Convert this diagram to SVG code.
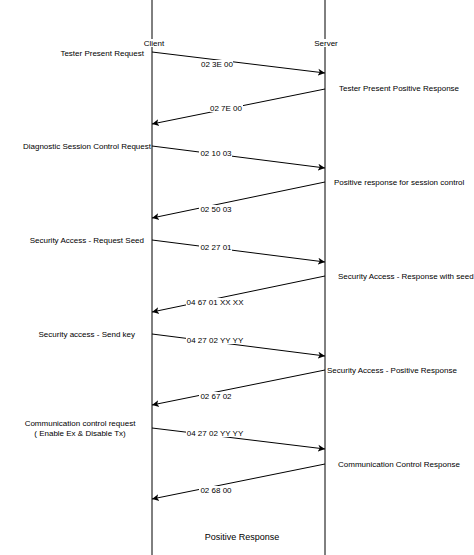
<svg xmlns="http://www.w3.org/2000/svg" width="474" height="555" viewBox="0 0 474 555">
<style>
text{font-family:"Liberation Sans",Arial,sans-serif;font-size:8px;fill:#000}
.life{stroke:#000;stroke-width:1;fill:none}
.msg{stroke:#000;stroke-width:1;fill:none;marker-end:url(#ah)}
.lbl{fill:#fff}
.m{text-anchor:middle}
</style>
<defs>
<marker id="ah" markerWidth="8" markerHeight="8" refX="7" refY="4" orient="auto" markerUnits="userSpaceOnUse">
<path d="M0,0.5 L7,4 L0,7.5 L1.8,4 Z" fill="#000"/>
</marker>
</defs>
<rect width="474" height="555" fill="#fff"/>
<g id="client"><line class="life" x1="152" y1="0" x2="152" y2="555"/><rect class="lbl" x="144" y="39" width="21" height="8"/><text x="154" y="46" class="m">Client</text></g>
<g id="server"><line class="life" x1="325" y1="0" x2="325" y2="555"/><rect class="lbl" x="314" y="39" width="24" height="8"/><text x="326" y="46" class="m">Server</text></g>
<g id="connectors">
<line class="msg" x1="152" y1="52" x2="325" y2="73"/>
<line class="msg" x1="325" y1="89" x2="152" y2="124"/>
<line class="msg" x1="152" y1="146" x2="325" y2="168"/>
<line class="msg" x1="325" y1="182" x2="152" y2="218"/>
<line class="msg" x1="152" y1="240" x2="325" y2="262"/>
<line class="msg" x1="325" y1="276" x2="152" y2="312"/>
<line class="msg" x1="152" y1="334" x2="325" y2="356"/>
<line class="msg" x1="325" y1="370" x2="152" y2="405"/>
<line class="msg" x1="152" y1="428" x2="325" y2="449"/>
<line class="msg" x1="325" y1="464" x2="152" y2="499"/>
<rect class="lbl" x="200" y="60" width="33" height="8"/><text x="217" y="67" class="m">02 3E 00</text>
<rect class="lbl" x="210" y="104" width="33" height="8"/><text x="226" y="111" class="m">02 7E 00</text>
<rect class="lbl" x="199" y="149" width="33" height="8"/><text x="216" y="156" class="m">02 10 03</text>
<rect class="lbl" x="199" y="205" width="33" height="8"/><text x="216" y="212" class="m">02 50 03</text>
<rect class="lbl" x="199" y="243" width="33" height="8"/><text x="216" y="250" class="m">02 27 01</text>
<rect class="lbl" x="186" y="298" width="58" height="8"/><text x="215" y="305" class="m">04 67 01 XX XX</text>
<rect class="lbl" x="186" y="336" width="58" height="8"/><text x="215" y="343" class="m">04 27 02 YY YY</text>
<rect class="lbl" x="199" y="392" width="33" height="8"/><text x="216" y="399" class="m">02 67 02</text>
<rect class="lbl" x="186" y="429" width="58" height="8"/><text x="215" y="436" class="m">04 27 02 YY YY</text>
<rect class="lbl" x="199" y="486" width="33" height="8"/><text x="216" y="493" class="m">02 68 00</text>
</g>
<g id="n1"><text x="144" y="56" text-anchor="end">Tester Present Request</text></g>
<g id="n2"><text x="339" y="91">Tester Present Positive Response</text></g>
<g id="n3"><text x="151" y="149" text-anchor="end">Diagnostic Session Control Request</text></g>
<g id="n4"><text x="334" y="185">Positive response for session control</text></g>
<g id="n5"><text x="144" y="243" text-anchor="end">Security Access - Request Seed</text></g>
<g id="n6"><text x="338" y="279">Security Access - Response with seed</text></g>
<g id="n7"><text x="135" y="337" text-anchor="end">Security access - Send key</text></g>
<g id="n8"><text x="327" y="373">Security Access - Positive Response</text></g>
<g id="n9"><text x="80" y="426" class="m">Communication control request</text><text x="80" y="436" class="m">( Enable Ex &amp; Disable Tx)</text></g>
<g id="n10"><text x="338" y="467">Communication Control Response</text></g>
<g id="n11"><text x="242" y="540" class="m" style="font-size:9px">Positive Response</text></g>
</svg>
